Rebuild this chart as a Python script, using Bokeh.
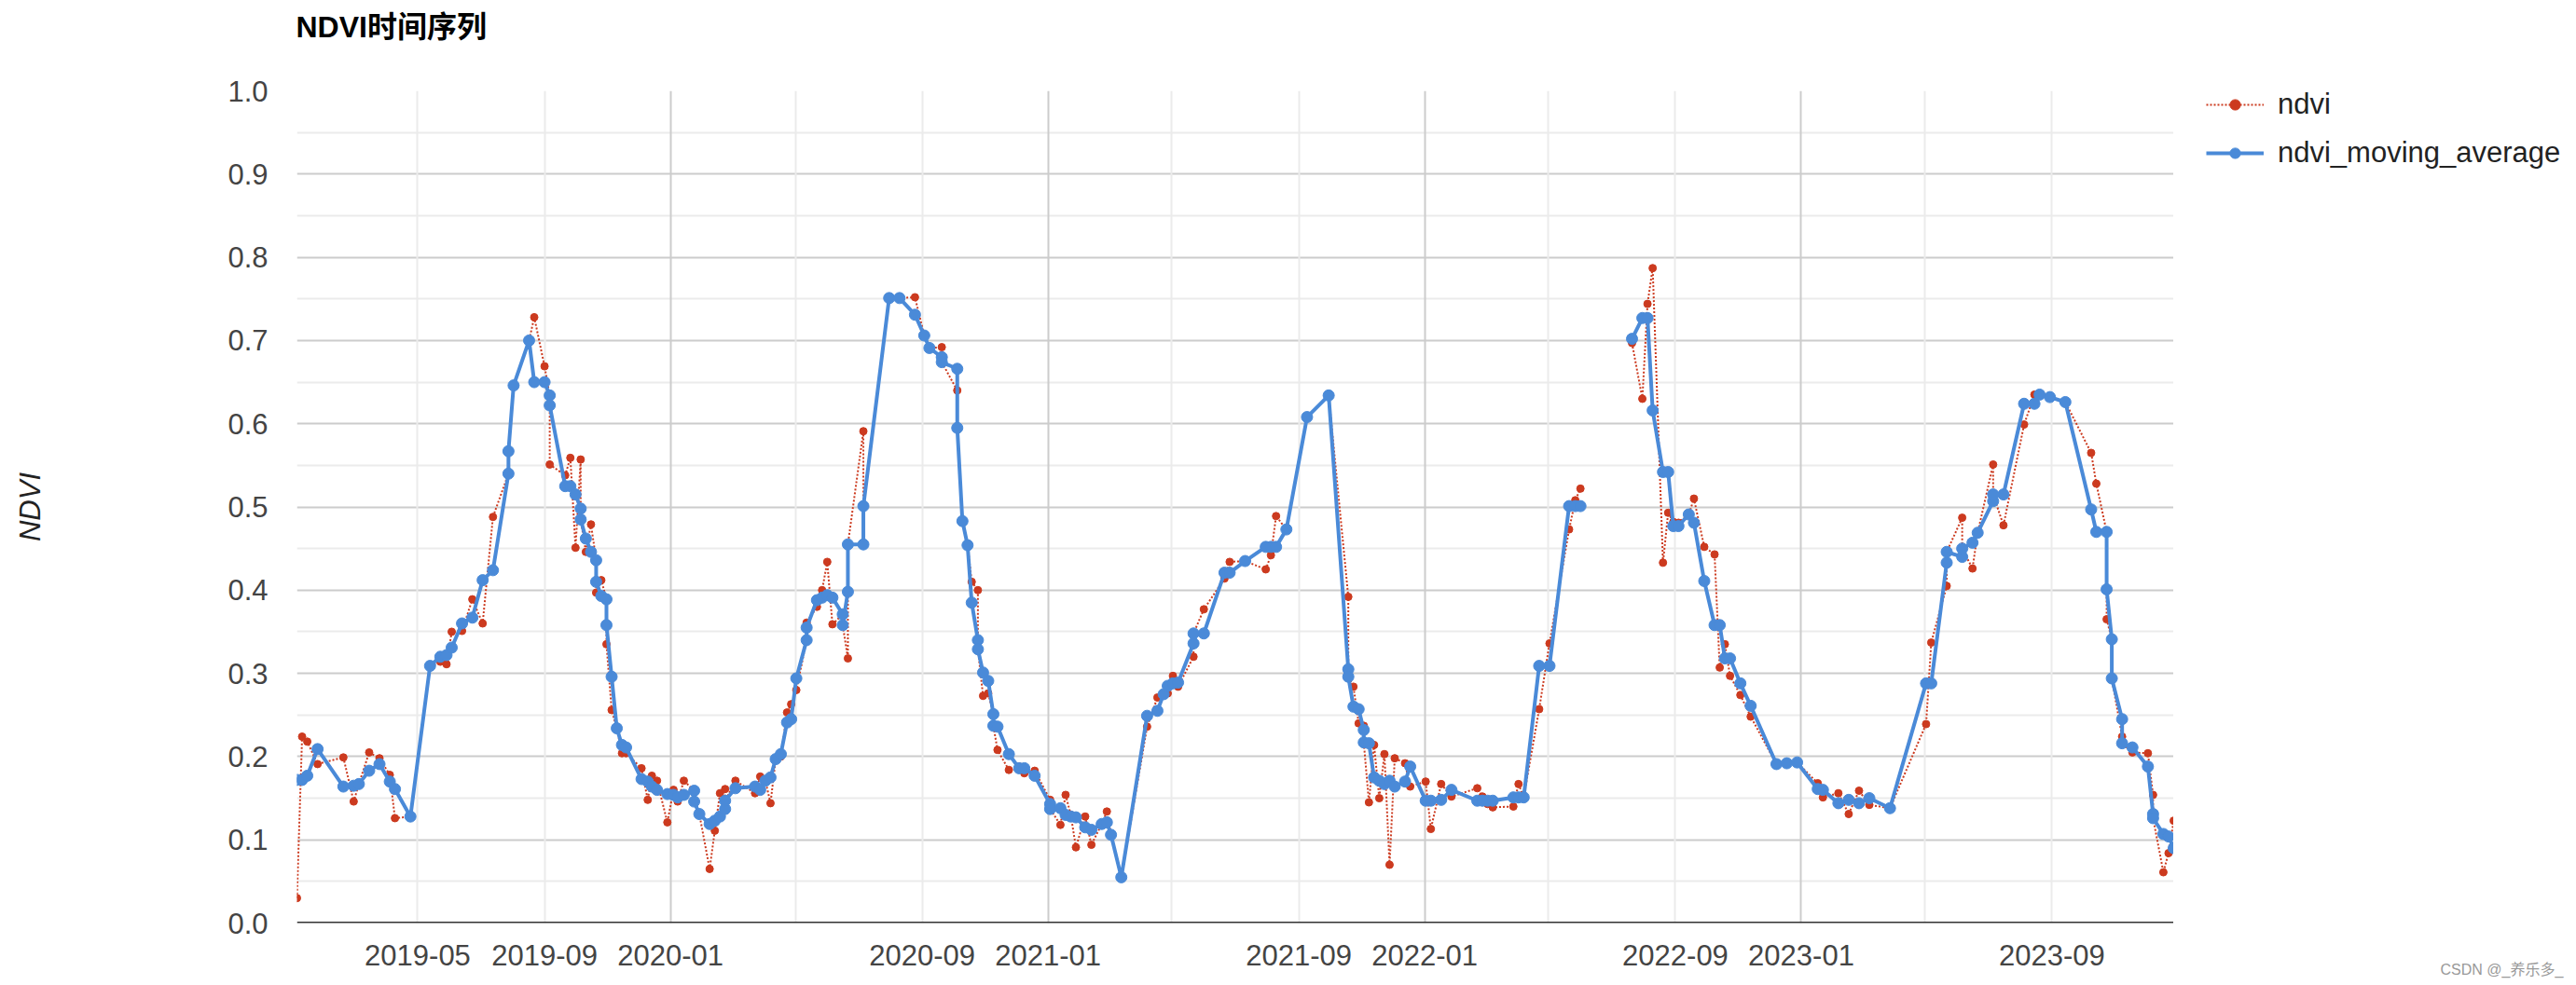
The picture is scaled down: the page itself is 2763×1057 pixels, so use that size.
import numpy as np
import pandas as pd
from bokeh.plotting import figure
from bokeh.layouts import column, row
from bokeh.models import (ColumnDataSource, Range1d, FixedTicker, Grid, Span, Legend,
                          LegendItem, DatetimeTickFormatter, Label)
from bokeh.embed import file_html
from bokeh.resources import INLINE

# ---------------- data ----------------
dates = [
    "2019-01-04", "2019-01-09", "2019-01-14", "2019-01-24", "2019-02-18", "2019-02-28", "2019-03-05", "2019-03-15", "2019-03-25", "2019-04-04",
    "2019-04-09", "2019-04-24", "2019-05-13", "2019-05-23", "2019-05-29", "2019-06-03", "2019-06-13", "2019-06-23", "2019-07-03", "2019-07-13",
    "2019-07-28", "2019-07-28", "2019-08-02", "2019-08-17", "2019-08-22", "2019-09-01", "2019-09-06", "2019-09-06", "2019-09-21", "2019-09-26",
    "2019-10-01", "2019-10-06", "2019-10-06", "2019-10-11", "2019-10-16", "2019-10-21", "2019-10-21", "2019-10-26", "2019-10-31", "2019-10-31",
    "2019-11-05", "2019-11-10", "2019-11-15", "2019-11-19", "2019-12-04", "2019-12-10", "2019-12-14", "2019-12-19", "2019-12-29", "2020-01-04",
    "2020-01-08", "2020-01-14", "2020-01-24", "2020-01-24", "2020-01-29", "2020-02-08", "2020-02-13", "2020-02-18", "2020-02-23", "2020-02-23",
    "2020-03-04", "2020-03-23", "2020-03-28", "2020-04-02", "2020-04-07", "2020-04-12", "2020-04-17", "2020-04-23", "2020-04-27", "2020-05-02",
    "2020-05-12", "2020-05-12", "2020-05-22", "2020-05-27", "2020-06-01", "2020-06-06", "2020-06-16", "2020-06-16", "2020-06-21", "2020-06-21",
    "2020-07-06", "2020-07-06", "2020-07-31", "2020-08-10", "2020-08-25", "2020-09-03", "2020-09-08", "2020-09-20", "2020-09-20", "2020-10-05",
    "2020-10-05", "2020-10-10", "2020-10-15", "2020-10-19", "2020-10-25", "2020-10-25", "2020-10-30", "2020-11-04", "2020-11-09", "2020-11-09",
    "2020-11-13", "2020-11-24", "2020-12-04", "2020-12-09", "2020-12-19", "2021-01-03", "2021-01-03", "2021-01-13", "2021-01-18", "2021-01-23",
    "2021-01-28", "2021-02-06", "2021-02-12", "2021-02-22", "2021-02-27", "2021-03-03", "2021-03-13", "2021-04-07", "2021-04-17", "2021-04-23",
    "2021-04-27", "2021-05-02", "2021-05-07", "2021-05-22", "2021-05-22", "2021-06-01", "2021-06-21", "2021-06-26", "2021-07-11", "2021-07-31",
    "2021-08-05", "2021-08-10", "2021-08-20", "2021-09-09", "2021-09-30", "2021-10-19", "2021-10-19", "2021-10-24", "2021-10-29", "2021-11-03",
    "2021-11-03", "2021-11-08", "2021-11-13", "2021-11-18", "2021-11-23", "2021-11-28", "2021-12-03", "2021-12-13", "2021-12-18", "2022-01-02",
    "2022-01-07", "2022-01-17", "2022-01-27", "2022-02-21", "2022-02-26", "2022-03-03", "2022-03-08", "2022-03-28", "2022-04-02", "2022-04-07",
    "2022-04-22", "2022-05-02", "2022-05-21", "2022-05-27", "2022-06-01", "2022-06-26", "2022-07-21", "2022-07-31", "2022-08-05", "2022-08-10",
    "2022-08-20", "2022-08-25", "2022-08-30", "2022-09-04", "2022-09-14", "2022-09-19", "2022-09-29", "2022-10-09", "2022-10-14", "2022-10-19",
    "2022-10-24", "2022-11-03", "2022-11-13", "2022-12-08", "2022-12-18", "2022-12-28", "2023-01-17", "2023-01-22", "2023-02-06", "2023-02-16",
    "2023-02-26", "2023-03-08", "2023-03-28", "2023-05-02", "2023-05-07", "2023-05-22", "2023-05-22", "2023-06-06", "2023-06-06", "2023-06-16",
    "2023-06-21", "2023-07-06", "2023-07-06", "2023-07-16", "2023-08-05", "2023-08-15", "2023-08-20", "2023-08-30", "2023-09-14", "2023-10-09",
    "2023-10-14", "2023-10-24", "2023-10-24", "2023-10-29", "2023-10-29", "2023-11-08", "2023-11-08", "2023-11-18", "2023-12-03", "2023-12-08",
    "2023-12-08", "2023-12-18", "2023-12-23", "2023-12-28",
]

ndvi = [
    0.030, 0.224, 0.218, 0.191, 0.199, 0.146, 0.167, 0.205, 0.198, 0.178,
    0.126, 0.128, 0.308, 0.314, 0.311, 0.350, 0.351, 0.389, 0.360, 0.488,
    0.540, 0.567, 0.646, 0.700, 0.728, 0.669, 0.634, 0.551, 0.538, 0.559,
    0.451, 0.557, 0.485, 0.446, 0.479, 0.436, 0.397, 0.412, 0.389, 0.335,
    0.256, 0.234, 0.204, 0.204, 0.186, 0.148, 0.177, 0.171, 0.121, 0.160,
    0.146, 0.171, 0.159, 0.146, 0.131, 0.065, 0.111, 0.156, 0.161, 0.147,
    0.171, 0.156, 0.176, 0.171, 0.144, 0.197, 0.200, 0.253, 0.263, 0.280,
    0.340, 0.361, 0.380, 0.400, 0.434, 0.359, 0.371, 0.358, 0.318, 0.455,
    0.591, 0.501, 0.751, 0.751, 0.752, 0.706, 0.691, 0.692, 0.674, 0.640,
    0.595, 0.483, 0.454, 0.410, 0.400, 0.329, 0.273, 0.276, 0.251, 0.237,
    0.208, 0.184, 0.188, 0.180, 0.183, 0.148, 0.137, 0.118, 0.154, 0.130,
    0.091, 0.128, 0.094, 0.119, 0.134, 0.106, 0.055, 0.236, 0.271, 0.274,
    0.276, 0.297, 0.284, 0.320, 0.348, 0.377, 0.414, 0.434, 0.435, 0.425,
    0.442, 0.489, 0.473, 0.608, 0.634, 0.392, 0.296, 0.284, 0.240, 0.237,
    0.217, 0.145, 0.214, 0.150, 0.203, 0.070, 0.198, 0.192, 0.164, 0.170,
    0.113, 0.167, 0.152, 0.162, 0.152, 0.143, 0.139, 0.140, 0.167, 0.151,
    0.257, 0.336, 0.473, 0.508, 0.522, None, 0.697, 0.630, 0.744, 0.787,
    0.433, 0.493, 0.482, 0.481, 0.491, 0.510, 0.452, 0.443, 0.307, 0.335,
    0.297, 0.274, 0.248, 0.191, 0.192, 0.193, 0.168, 0.151, 0.156, 0.131,
    0.159, 0.142, 0.138, 0.239, 0.337, 0.405, 0.446, 0.487, 0.450, 0.426,
    0.469, 0.551, 0.515, 0.478, 0.599, 0.635, 0.635, 0.632, 0.626, 0.565,
    0.528, 0.470, 0.365, 0.341, 0.294, 0.224, 0.216, 0.205, 0.204, 0.154,
    0.126, 0.061, 0.084, 0.123,
]

ndvi_moving_average = [
    0.172, 0.172, 0.177, 0.209, 0.164, 0.165, 0.167, 0.183, 0.191, 0.170,
    0.161, 0.128, 0.309, 0.320, 0.322, 0.331, 0.360, 0.367, 0.412, 0.424,
    0.540, 0.567, 0.646, 0.700, 0.650, 0.650, 0.634, 0.622, 0.525, 0.525,
    0.515, 0.498, 0.485, 0.462, 0.446, 0.436, 0.410, 0.393, 0.389, 0.358,
    0.296, 0.234, 0.214, 0.211, 0.173, 0.170, 0.164, 0.160, 0.155, 0.154,
    0.151, 0.154, 0.159, 0.146, 0.131, 0.119, 0.123, 0.128, 0.137, 0.147,
    0.162, 0.164, 0.160, 0.171, 0.175, 0.197, 0.203, 0.241, 0.245, 0.294,
    0.340, 0.355, 0.388, 0.391, 0.394, 0.391, 0.371, 0.358, 0.398, 0.455,
    0.455, 0.501, 0.751, 0.751, 0.731, 0.706, 0.691, 0.680, 0.674, 0.666,
    0.595, 0.483, 0.454, 0.385, 0.340, 0.329, 0.301, 0.291, 0.251, 0.237,
    0.236, 0.203, 0.186, 0.186, 0.177, 0.143, 0.137, 0.138, 0.130, 0.128,
    0.127, 0.115, 0.112, 0.119, 0.121, 0.106, 0.055, 0.249, 0.255, 0.275,
    0.285, 0.288, 0.289, 0.336, 0.348, 0.348, 0.421, 0.421, 0.435, 0.452,
    0.452, 0.452, 0.473, 0.608, 0.634, 0.305, 0.296, 0.260, 0.257, 0.232,
    0.217, 0.216, 0.175, 0.171, 0.167, 0.171, 0.164, 0.170, 0.188, 0.147,
    0.147, 0.148, 0.160, 0.147, 0.147, 0.147, 0.147, 0.151, 0.151, 0.151,
    0.309, 0.309, 0.501, 0.501, 0.501, None, 0.702, 0.727, 0.727, 0.616,
    0.542, 0.542, 0.477, 0.477, 0.491, 0.481, 0.411, 0.358, 0.358, 0.318,
    0.318, 0.288, 0.261, 0.191, 0.192, 0.193, 0.161, 0.160, 0.144, 0.148,
    0.144, 0.150, 0.138, 0.288, 0.288, 0.433, 0.446, 0.440, 0.450, 0.457,
    0.469, 0.507, 0.515, 0.515, 0.624, 0.624, 0.635, 0.632, 0.626, 0.497,
    0.470, 0.470, 0.401, 0.341, 0.294, 0.245, 0.216, 0.211, 0.188, 0.131,
    0.126, 0.107, 0.104, 0.090,
]

x_tick_labels = ["2019-05", "2019-09", "2020-01", "2020-09", "2021-01",
                 "2021-09", "2022-01", "2022-09", "2023-01", "2023-09"]
x_grid_major = ["2020-01", "2021-01", "2022-01", "2023-01"]
x_grid_minor = ["2019-05", "2019-09", "2020-05", "2020-09", "2021-05",
                "2021-09", "2022-05", "2022-09", "2023-05", "2023-09"]
y_ticks = [0.0, 0.1, 0.2, 0.3, 0.4, 0.5, 0.6, 0.7, 0.8, 0.9, 1.0]
y_minor_ticks = [0.05, 0.15, 0.25, 0.35, 0.45, 0.55, 0.65, 0.75, 0.85, 0.95]

title_text = "NDVI时间序列"
y_label = "NDVI"
series_names = ["ndvi", "ndvi_moving_average"]
watermark = "CSDN @_养乐多_"

# ---------------- styling / layout ----------------
RED = "#cc3a1f"
BLUE = "#4a8ad8"
FONT = "Liberation Sans, Noto Sans CJK SC"

W, H = 2760, 1050
TITLE_H = 80                         # strip holding the title
FL, FR, FT, FB = 318, 2331, 97, 990  # frame edges in page pixels
MAIN_H = H - TITLE_H
SIDE_W = W - FR


def to_ms(s):
    return pd.Timestamp(s).value / 1e6


def bare(fig):
    fig.outline_line_color = None
    fig.background_fill_color = "white"
    fig.border_fill_color = "white"
    fig.xgrid.visible = False
    fig.ygrid.visible = False
    fig.frame_align = False


x = pd.to_datetime(dates)
src = ColumnDataSource(dict(
    x=x,
    ndvi=np.array([np.nan if v is None else v for v in ndvi], dtype=float),
    ma=np.array([np.nan if v is None else v for v in ndvi_moving_average], dtype=float),
))

# ---- title strip ----
tfig = figure(width=W, height=TITLE_H, output_backend="svg", toolbar_location=None,
              x_range=Range1d(0, W), y_range=Range1d(0, TITLE_H),
              x_axis_location=None, y_axis_location=None,
              min_border=0, min_border_left=0, min_border_right=0,
              min_border_top=0, min_border_bottom=0)
bare(tfig)
tfig.add_layout(Label(x=317, y=TITLE_H - 28, text=title_text, text_font=FONT,
                      text_font_size="32px", text_font_style="bold",
                      text_color="#000000", text_baseline="middle", text_align="left"))

# ---- main chart ----
p = figure(width=FR, height=MAIN_H, x_axis_type="datetime",
           output_backend="svg", toolbar_location=None,
           x_range=Range1d(x[0], x[-1]), y_range=Range1d(0, 1),
           min_border_left=FL, min_border_right=0,
           min_border_top=FT - TITLE_H, min_border_bottom=H - FB)
bare(p)

ygrid = Grid(dimension=1, ticker=FixedTicker(ticks=y_ticks, minor_ticks=y_minor_ticks),
             grid_line_color="#cccccc", grid_line_width=2,
             minor_grid_line_color="#ebebeb", minor_grid_line_width=2)
xgrid = Grid(dimension=0,
             ticker=FixedTicker(ticks=[to_ms(m + "-01") for m in x_grid_major],
                                minor_ticks=[to_ms(m + "-01") for m in x_grid_minor]),
             grid_line_color="#cccccc", grid_line_width=2,
             minor_grid_line_color="#ebebeb", minor_grid_line_width=2)
p.add_layout(ygrid)
p.add_layout(xgrid)
p.add_layout(Span(location=0, dimension="width", line_color="#333333", line_width=3))

for ax in (p.xaxis[0], p.yaxis[0]):
    ax.axis_line_color = None
    ax.major_tick_line_color = None
    ax.minor_tick_line_color = None
    ax.major_tick_out = 0
    ax.minor_tick_out = 0
    ax.major_label_text_font = FONT
    ax.major_label_text_font_size = "31px"
    ax.major_label_text_color = "#444444"

p.yaxis.ticker = FixedTicker(ticks=y_ticks)
p.yaxis.major_label_overrides = {t: f"{t:.1f}" for t in y_ticks}
p.yaxis.major_label_standoff = 31
p.yaxis.axis_label = y_label
p.yaxis.axis_label_text_font = FONT
p.yaxis.axis_label_text_font_size = "31px"
p.yaxis.axis_label_text_font_style = "italic"
p.yaxis.axis_label_text_color = "#222222"
p.yaxis.axis_label_standoff = 191

p.xaxis.ticker = FixedTicker(ticks=[to_ms(m + "-01") for m in x_tick_labels])
p.xaxis.formatter = DatetimeTickFormatter(days="%Y-%m", months="%Y-%m", years="%Y-%m",
                                          hours="%Y-%m", minutes="%Y-%m")
p.xaxis.major_label_standoff = 23

p.line("x", "ndvi", source=src, line_color=RED, line_width=2, line_dash="2 2")
p.scatter("x", "ndvi", source=src, size=8, fill_color=RED, line_color=RED)
p.line("x", "ma", source=src, line_color=BLUE, line_width=4)
p.scatter("x", "ma", source=src, size=12, fill_color=BLUE, line_color=BLUE)

# ---- legend strip (right of the chart) ----
lfig = figure(width=SIDE_W, height=MAIN_H, output_backend="svg", toolbar_location=None,
              x_range=Range1d(0, 1), y_range=Range1d(0, 1),
              x_axis_location=None, y_axis_location=None,
              min_border=0, min_border_left=0, min_border_right=0,
              min_border_top=0, min_border_bottom=0)
bare(lfig)
# legend keys: styled like the series, their single point lies outside the view
k_rl = lfig.line([-10, -9], [-10, -9], line_color=RED, line_width=2, line_dash="2 2")
k_rp = lfig.scatter([-10], [-10], size=8, fill_color=RED, line_color=RED)
k_bl = lfig.line([-10, -9], [-10, -9], line_color=BLUE, line_width=4)
k_bp = lfig.scatter([-10], [-10], size=12, fill_color=BLUE, line_color=BLUE)

LEG_TOP = 94 - TITLE_H
LEG_H = 36 + 16 + 36
legend = Legend(items=[LegendItem(label=series_names[0], renderers=[k_rl, k_rp]),
                       LegendItem(label=series_names[1], renderers=[k_bl, k_bp])],
                location=(2366 - FR, MAIN_H - LEG_TOP - LEG_H), orientation="vertical",
                glyph_width=62, glyph_height=28, label_height=36, spacing=16,
                label_standoff=15, padding=0, margin=0,
                border_line_color=None, background_fill_alpha=0,
                label_text_font=FONT, label_text_font_size="31px",
                label_text_color="#222222")
lfig.add_layout(legend, "center")

lfig.add_layout(Label(x=2617 - FR, y=2, x_units="screen", y_units="screen",
                      text=watermark, text_font=FONT, text_font_size="16px",
                      text_color="#999999", text_baseline="bottom"))

layout = column(tfig, row(p, lfig, spacing=0), spacing=0)
open("out.html", "w").write(file_html(layout, INLINE))
